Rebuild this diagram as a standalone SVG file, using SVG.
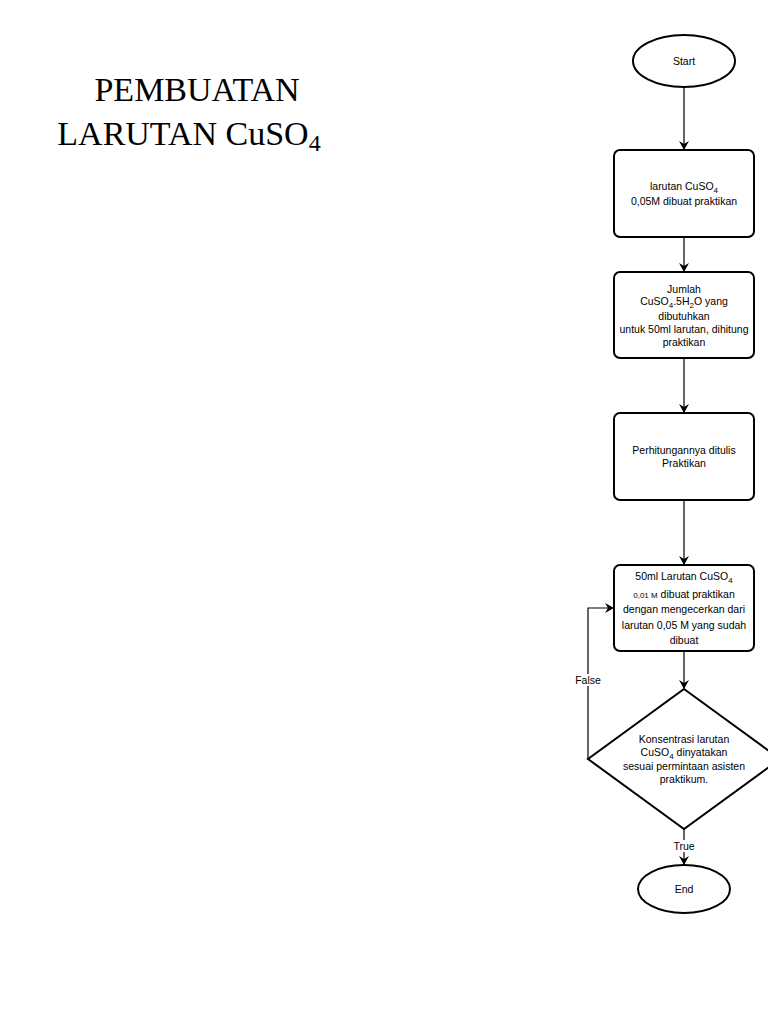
<svg xmlns="http://www.w3.org/2000/svg" width="768" height="1024" viewBox="0 0 768 1024">
<style>
.s{fill:#fff;stroke:#000;stroke-width:2}
.t{font-family:"Liberation Sans",Arial,sans-serif;font-size:10.5px;text-anchor:middle;fill:#000}
.c{fill:none;stroke:#000;stroke-width:1.2}
.h{font-family:"Liberation Serif","Times New Roman",serif;font-size:34px;text-anchor:middle}
</style>
<defs><marker id="a" markerWidth="10" markerHeight="10" refX="8" refY="5" orient="auto" markerUnits="userSpaceOnUse"><path d="M0,0 L9,5 L0,10 L3,5 Z"/></marker></defs>
<rect width="768" height="1024" fill="#fff"/>
<g id="title"><text class="h" x="197" y="101">PEMBUATAN</text><text class="h" x="189" y="145">LARUTAN CuSO<tspan font-size="24" dy="6">4</tspan></text></g>
<g id="conn">
<path class="c" marker-end="url(#a)" d="M684,87 V149"/>
<path class="c" marker-end="url(#a)" d="M684,237 V271"/>
<path class="c" marker-end="url(#a)" d="M684,358 V412"/>
<path class="c" marker-end="url(#a)" d="M684,500 V564"/>
<path class="c" marker-end="url(#a)" d="M684,651 V688"/>
<path class="c" marker-end="url(#a)" d="M588,759 V608 H613"/>
<path class="c" marker-end="url(#a)" d="M684,829 V864"/>
<rect x="573" y="674" width="30" height="12" fill="#fff"/><text class="t" x="588" y="684" font-size="9">False</text>
<rect x="672" y="840" width="24" height="12" fill="#fff"/><text class="t" x="684" y="850" font-size="9">True</text>
</g>
<g id="start"><ellipse class="s" cx="684" cy="61" rx="51" ry="26"/><text class="t" x="684" y="65">Start</text></g>
<g id="n1"><rect class="s" x="614" y="150" width="140" height="87" rx="6"/><text class="t" x="684" y="190">larutan CuSO<tspan font-size="8" dy="3">4</tspan></text><text class="t" x="684" y="205">0,05M dibuat praktikan</text></g>
<g id="n2"><rect class="s" x="614" y="272" width="140" height="86" rx="6"/><text class="t" x="684" y="293">Jumlah</text><text class="t" x="684" y="305">CuSO<tspan font-size="8" dy="3">4</tspan><tspan dy="-3">.5H</tspan><tspan font-size="8" dy="3">2</tspan><tspan dy="-3">O yang</tspan></text><text class="t" x="684" y="320">dibutuhkan</text><text class="t" x="684" y="333">untuk 50ml larutan, dihitung</text><text class="t" x="684" y="346">praktikan</text></g>
<g id="n3"><rect class="s" x="614" y="413" width="140" height="87" rx="6"/><text class="t" x="684" y="454">Perhitungannya ditulis</text><text class="t" x="684" y="467">Praktikan</text></g>
<g id="n4"><rect class="s" x="614" y="565" width="140" height="86" rx="6"/><text class="t" x="684" y="580">50ml Larutan CuSO<tspan font-size="8" dy="3">4</tspan></text><text class="t" x="684" y="598"><tspan font-size="8">0,01 M</tspan> dibuat praktikan</text><text class="t" x="684" y="613">dengan mengecerkan dari</text><text class="t" x="684" y="629">larutan 0,05 M yang sudah</text><text class="t" x="684" y="644">dibuat</text></g>
<g id="d"><path class="s" d="M684,689 L780,759 L684,829 L588,759 Z"/><text class="t" x="684" y="743">Konsentrasi larutan</text><text class="t" x="684" y="756">CuSO<tspan font-size="8" dy="3">4</tspan><tspan dy="-3"> dinyatakan</tspan></text><text class="t" x="684" y="770">sesuai permintaan asisten</text><text class="t" x="684" y="783">praktikum.</text></g>
<g id="end"><ellipse class="s" cx="684" cy="889" rx="46" ry="24"/><text class="t" x="684" y="893">End</text></g>
</svg>
